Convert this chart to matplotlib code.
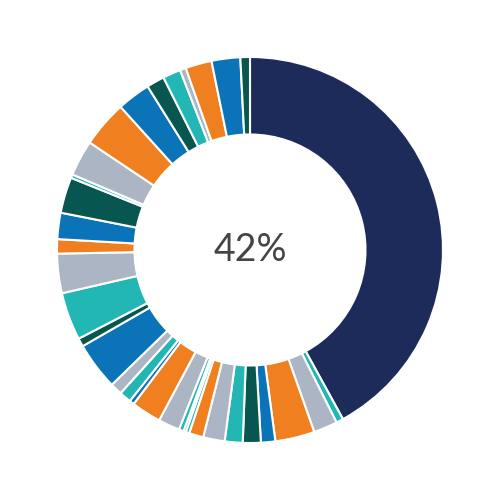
import matplotlib
matplotlib.use("Agg")
import matplotlib.pyplot as plt

N, T, G, O, B, D = "#1c2b5a", "#22b6b4", "#abb5c3", "#f0801f", "#0b73b7", "#07564f"
values = [42, 0.6, 2, 3.3, 1.2, 1.5, 1.5, 1.8, 1.2, 0.3, 0.2, 0.4, 1.8, 2.5, 0.4, 1, 1,
          4, 0.7, 4, 3.3, 1.2, 2.2, 3, 0.3, 3, 3.9, 2.8, 1.5, 1.5, 0.5, 2.2, 2.4, 0.8]
colors = [N, T, G, O, B, D, T, G, O, T, D, T, G, O, B, T, G,
          B, D, T, G, O, B, D, T, G, O, B, D, T, G, O, B, D]

fig = plt.figure(figsize=(5, 5), dpi=100)
ax = fig.add_axes([0, 0, 1, 1])
ax.pie(values, colors=colors, startangle=90, counterclock=False, radius=0.772,
       wedgeprops=dict(width=0.31, edgecolor="white", linewidth=1.5))
ax.text(0, 0, "42%", ha="center", va="center", fontsize=27, color="#444444",
        family="Lato")
ax.set_xlim(-1, 1); ax.set_ylim(-1, 1); ax.set_aspect("equal"); ax.axis("off")
fig.savefig("out.png")
